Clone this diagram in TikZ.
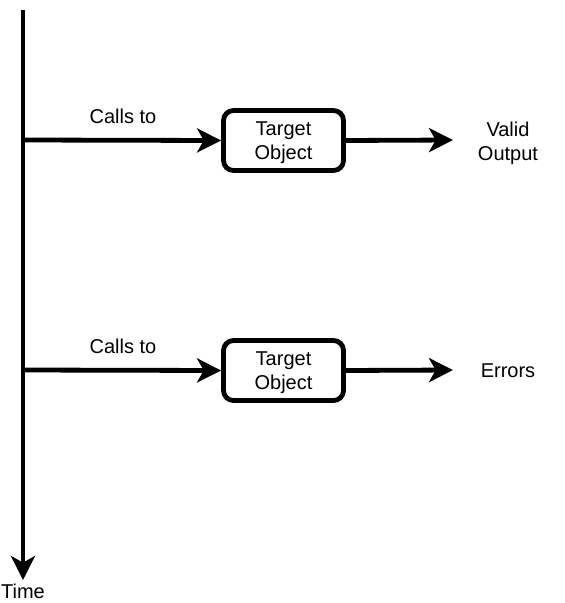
\documentclass[tikz,border=0pt]{standalone}
\usepackage{fontspec}
\setmainfont{Liberation Sans}
\usetikzlibrary{arrows.meta}
\begin{document}
\begin{tikzpicture}[x=0.75pt,y=-0.75pt,
  conn/.style={line width=3.6pt,-{Stealth[length=18pt,width=18pt,inset=5pt]}},
  target/.style={draw,line width=3.6pt,rounded corners=7.5pt,minimum width=90pt,minimum height=45pt,inner sep=0pt},
  lbl/.style={align=center,inner sep=0pt,font=\fontsize{15pt}{18pt}\selectfont}]
\useasboundingbox (0,0) rectangle (564,603);
\coordinate (top) at (23,10);
\coordinate (bot) at (23,580);
\draw[conn] (top) -- (bot);
\node[lbl] (time) at (23,591) {Time};
\coordinate (s1) at (23,140);
\coordinate (s2) at (23,370);
\node[target] (t1) at (283.5,140.5) {};
\node[target] (t2) at (283.5,370.5) {};
\node[lbl] (t1txt) at (283.5,142.5) {Target\\Object};
\node[lbl] (t2txt) at (283.5,372.5) {Target\\Object};
\node[lbl] (c1) at (123,116) {Calls to};
\node[lbl] (c2) at (123,346) {Calls to};
\coordinate (e1) at (453,140);
\coordinate (e2) at (453,370);
\node[lbl] (v) at (508,143) {Valid\\Output};
\node[lbl] (err) at (508,371) {Errors};
\draw[conn] (s1) -- (t1.west);
\draw[conn] (s2) -- (t2.west);
\draw[conn] (t1.east) -- (e1);
\draw[conn] (t2.east) -- (e2);
\end{tikzpicture}
\end{document}
